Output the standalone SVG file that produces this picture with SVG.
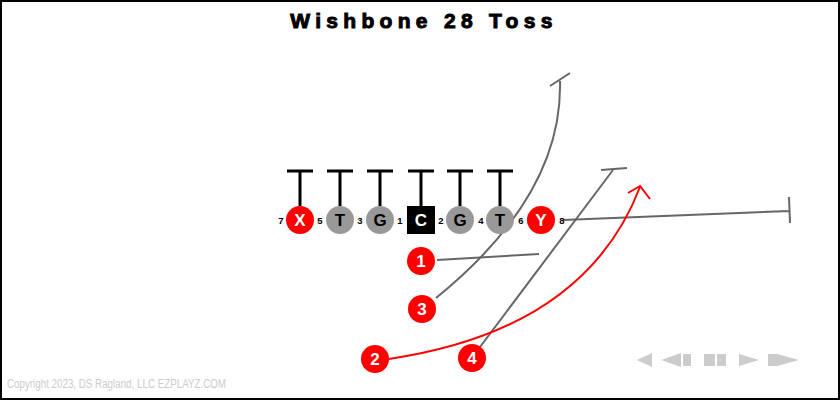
<svg xmlns="http://www.w3.org/2000/svg" width="840" height="400" viewBox="0 0 840 400">
<defs>
<style>
.red{fill:#ff0000}
.gray{fill:#999999}
.lt{font-family:"Liberation Sans",Arial,sans-serif;font-weight:bold;font-size:17px;text-anchor:middle}
.w{fill:#ffffff}
.k{fill:#000000}
.gap{font-family:"Liberation Sans",Arial,sans-serif;font-weight:bold;font-size:9.5px;text-anchor:middle;fill:#000}
.blk{stroke:#000;stroke-width:3;fill:none}
.rt{stroke:#666666;stroke-width:2;fill:none}
.ctl{fill:#cccccc}
</style>
</defs>
<rect x="1" y="1" width="838" height="398" fill="#ffffff" stroke="#000" stroke-width="2"/>
<text x="424" y="28" font-family="'Liberation Sans',Arial,sans-serif" font-weight="bold" font-size="21" letter-spacing="5.3" text-anchor="middle" fill="#000" stroke="#000" stroke-width="1">Wishbone 28 Toss</text>

<g id="connectors">
<g id="blocks" class="blk">
<path d="M300 206V171M287 171H313"/>
<path d="M340 206V171M327 171H353"/>
<path d="M380 206V171M367 171H393"/>
<path d="M421 206V171M408 171H434"/>
<path d="M460 206V171M447 171H473"/>
<path d="M500 206V171M487 171H513"/>
</g>
<path class="rt" d="M563 220L790 211M789 197L790 223"/>
<path class="rt" d="M437 260L539 254"/>
<path class="rt" d="M436 298Q563 195 560 81M550 86L570 73"/>
<path class="rt" d="M480 347L613 170M601 170L627 168"/>
<path d="M389 359Q585 330 640 187" stroke="#ff0000" stroke-width="2" fill="none"/>
<path d="M628 193L640 186L650 199" stroke="#ff0000" stroke-width="2" fill="none"/>
</g>

<g id="X"><circle class="red" cx="300" cy="220" r="14"/><text class="lt w" x="300" y="226">X</text></g>
<g id="LT"><circle class="gray" cx="340" cy="220" r="14"/><text class="lt k" x="340" y="226">T</text></g>
<g id="LG"><circle class="gray" cx="380" cy="220" r="14"/><text class="lt k" x="380" y="226">G</text></g>
<g id="C"><rect x="407" y="206" width="28" height="28" fill="#000"/><text class="lt w" x="421" y="226">C</text></g>
<g id="RG"><circle class="gray" cx="460" cy="220" r="14"/><text class="lt k" x="460" y="226">G</text></g>
<g id="RT"><circle class="gray" cx="500" cy="220" r="14"/><text class="lt k" x="500" y="226">T</text></g>
<g id="Y"><circle class="red" cx="541" cy="220" r="14"/><text class="lt w" x="541" y="226">Y</text></g>

<g id="gaps">
<text class="gap" x="281" y="224">7</text>
<text class="gap" x="320" y="224">5</text>
<text class="gap" x="360" y="224">3</text>
<text class="gap" x="400" y="224">1</text>
<text class="gap" x="441" y="224">2</text>
<text class="gap" x="481" y="224">4</text>
<text class="gap" x="521" y="224">6</text>
<text class="gap" x="562" y="224">8</text>
</g>

<g id="B1"><circle class="red" cx="421" cy="261" r="14"/><text class="lt w" x="421" y="267">1</text></g>
<g id="B3"><circle class="red" cx="422" cy="309" r="14"/><text class="lt w" x="422" y="315">3</text></g>
<g id="B2"><circle class="red" cx="375" cy="359" r="14"/><text class="lt w" x="375" y="365">2</text></g>
<g id="B4"><circle class="red" cx="472" cy="358" r="14"/><text class="lt w" x="472" y="364">4</text></g>

<text x="7" y="388" font-family="'Liberation Sans',Arial,sans-serif" font-size="12" fill="#cccccc" textLength="219" lengthAdjust="spacingAndGlyphs">Copyright 2023, DS Ragland, LLC EZPLAYZ.COM</text>

<g id="controls" class="ctl">
<polygon points="637,360 652,353 652,367"/>
<polygon points="661,360 681,353 681,367"/>
<rect x="683" y="354" width="8" height="12"/>
<rect x="704" y="354" width="11" height="12"/>
<rect x="717" y="354" width="9" height="12"/>
<polygon points="739,354 759,360 739,366"/>
<rect x="768" y="354" width="9" height="12"/>
<polygon points="777,354 799,360 777,366"/>
</g>
</svg>
